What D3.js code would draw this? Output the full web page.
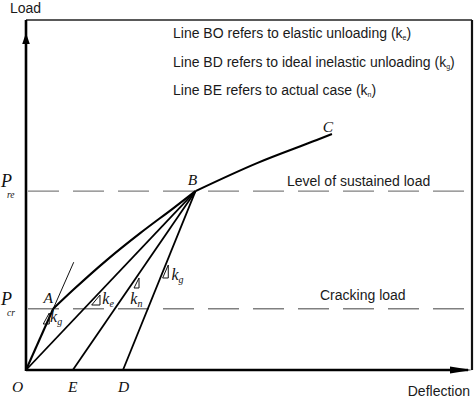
<!DOCTYPE html>
<html>
<head>
<meta charset="utf-8">
<script src="https://cdn.jsdelivr.net/npm/d3@7"></script>
<style>
  body { margin: 0; background: #fff; }
  svg { display: block; }
  .note { font-family: "Liberation Sans", Arial, sans-serif; font-size: 14px; fill: #1a1a1a; }
  .ital { font-family: "Liberation Serif", "Times New Roman", serif; font-style: italic; fill: #111; }
</style>
</head>
<body>
<svg width="474" height="399"></svg>
<script>
// key points of the diagram (deflection, load)
const pointNames = ["O", "A", "B", "C", "E", "D"];
const pointX = [0, 6.1, 38.0, 68.6, 10.5, 21.75];
const pointY = [0, 17.5, 51.1, 67.4, 0, 0];

const loadCr = 17.5; // cracking load
const loadRe = 51.1; // sustained load

// loading curve A -> B and B -> C
const curveABx = [6.1, 10.6, 18.1, 25.6, 33.0, 38.0];
const curveABy = [17.5, 22.9, 31.4, 39.1, 46.2, 51.1];
const curveBCx = [38.0, 51.8, 65.2, 68.6];
const curveBCy = [51.1, 59.1, 65.7, 67.4];

// thin tangent through O and A
const tangentTop = [10.7, 30.8];

// unloading lines from B
const unloadTo = ["O", "E", "D"];

// slope triangles: corner x, corner y, leg dx, leg dy, label
const triX = [5.22, 16.59, 25.34, 31.9];
const triY = [13.14, 18.57, 23.43, 26.29];
const triDx = [1.35, 1.86, 1.12, 1.26];
const triDy = [3.14, 2.86, 2.86, 3.71];
const triSub = ["g", "e", "n", "g"];
const triLabX = [5.4, 17.1, 23.4, 32.6];
const triLabY = [13.8, 18.9, 18.9, 25.7];

const notes = [
  ["Line BO refers to elastic unloading (k", "e", ")"],
  ["Line BD refers to ideal inelastic unloading (k", "g", ")"],
  ["Line BE refers to actual case (k", "n", ")"]
];

const svg = d3.select("svg");
const x = d3.scaleLinear().domain([0, 100]).range([26, 472]);
const y = d3.scaleLinear().domain([0, 100]).range([370, 20]);

const pt = {};
pointNames.forEach((n, i) => { pt[n] = [pointX[i], pointY[i]]; });

const line = d3.line().x((d) => x(d[0])).y((d) => y(d[1]));
const smooth = d3.line().x((d) => x(d[0])).y((d) => y(d[1])).curve(d3.curveMonotoneX);

// dashed load levels
svg.selectAll("line.level")
  .data([loadRe, loadCr])
  .enter()
  .append("line")
  .attr("x1", x(0) + 2)
  .attr("x2", x(100))
  .attr("y1", (d) => y(d))
  .attr("y2", (d) => y(d))
  .attr("stroke", "#808080")
  .attr("stroke-width", 1.3)
  .attr("stroke-dasharray", "31,14");

// frame
svg.append("line")
  .attr("x1", x(0)).attr("x2", x(100))
  .attr("y1", y(100)).attr("y2", y(100))
  .attr("stroke", "#222").attr("stroke-width", 1.5);
svg.append("line")
  .attr("x1", x(100)).attr("x2", x(100))
  .attr("y1", y(100)).attr("y2", y(0))
  .attr("stroke", "#111").attr("stroke-width", 2.2);

// axes
svg.append("line")
  .attr("x1", x(0)).attr("x2", x(0))
  .attr("y1", y(0) + 1).attr("y2", y(100))
  .attr("stroke", "#000").attr("stroke-width", 2.6);
svg.append("line")
  .attr("x1", x(0)).attr("x2", x(100) - 4)
  .attr("y1", y(0)).attr("y2", y(0))
  .attr("stroke", "#000").attr("stroke-width", 2.6);

// arrowheads
const yTip = y(96.3);
svg.append("path")
  .attr("d", `M${x(0)},${yTip} L${x(0) - 3.8},${yTip + 11} L${x(0) + 3.8},${yTip + 11} Z`)
  .attr("fill", "#000");
svg.append("path")
  .attr("d", `M${x(100)},${y(0)} L${x(100) - 22},${y(0) - 3.6} L${x(100) - 22},${y(0) + 3.6} Z`)
  .attr("fill", "#000");

// thin tangent line
svg.append("path")
  .attr("d", line([pt.A, tangentTop]))
  .attr("fill", "none").attr("stroke", "#111").attr("stroke-width", 1);

// unloading lines
svg.selectAll("path.unload")
  .data(unloadTo)
  .enter()
  .append("path")
  .attr("d", (d) => line([pt.B, pt[d]]))
  .attr("fill", "none").attr("stroke", "#000").attr("stroke-width", 1.8);

// loading curve
svg.append("path")
  .attr("d", line([pt.O, pt.A]))
  .attr("fill", "none").attr("stroke", "#000").attr("stroke-width", 2.1);
svg.append("path")
  .attr("d", smooth(curveABx.map((v, i) => [v, curveABy[i]])))
  .attr("fill", "none").attr("stroke", "#000").attr("stroke-width", 2.1);
svg.append("path")
  .attr("d", smooth(curveBCx.map((v, i) => [v, curveBCy[i]])))
  .attr("fill", "none").attr("stroke", "#000").attr("stroke-width", 2.1);

// slope triangles
triX.forEach((cx, i) => {
  const px = x(cx), py = y(triY[i]);
  const w = x(cx) - x(cx - triDx[i]);
  const h = y(triY[i]) - y(triY[i] + triDy[i]);
  svg.append("path")
    .attr("d", `M${px - w},${py} L${px},${py} L${px},${py - h} Z`)
    .attr("fill", "none").attr("stroke", "#111").attr("stroke-width", 1);
  const t = svg.append("text").attr("class", "ital")
    .attr("x", x(triLabX[i])).attr("y", y(triLabY[i]))
    .attr("font-size", 16);
  t.append("tspan").text("k");
  t.append("tspan").attr("font-size", 10).attr("dy", 3).text(triSub[i]);
});

// point labels
const labelDx = { O: -8.5, A: -5, B: -3, C: -4, E: 0, D: 0.5 };
const labelDy = { O: 22, A: -6, B: -6, C: -2, E: 22, D: 22 };
pointNames.forEach((n) => {
  svg.append("text").attr("class", "ital")
    .attr("x", x(pt[n][0]) + labelDx[n])
    .attr("y", y(pt[n][1]) + labelDy[n])
    .attr("text-anchor", "middle")
    .attr("font-size", 15.5)
    .text(n);
});

// P labels, subscript as its own small text under the P
[[loadRe, "re"], [loadCr, "cr"]].forEach(([v, sub]) => {
  svg.append("text").attr("class", "ital").attr("font-size", 18)
    .attr("x", 1).attr("y", y(v) - 4).text("P");
  svg.append("text").attr("class", "ital").attr("font-size", 9.5)
    .attr("x", 7).attr("y", y(v) + 7).text(sub);
});

// notes
notes.forEach((n, i) => {
  const t = svg.append("text").attr("class", "note").attr("font-size", 14.4)
    .attr("x", 173).attr("y", 38 + i * 28.6);
  t.append("tspan").text(n[0]);
  t.append("tspan").attr("font-size", 7).attr("dy", 2).text(n[1]);
  t.append("tspan").attr("dy", -2).text(n[2]);
});

svg.append("text").attr("class", "note").attr("x", 287).attr("y", 186)
  .text("Level of sustained load");
svg.append("text").attr("class", "note").attr("x", 320).attr("y", 300)
  .text("Cracking load");

// axis titles
svg.append("text").attr("class", "note").attr("font-size", 16)
  .attr("x", 10).attr("y", 13).text("Load");
svg.append("text").attr("class", "note").attr("font-size", 17)
  .attr("x", 470).attr("y", 396).attr("text-anchor", "end").text("Deflection");
</script>
</body>
</html>
